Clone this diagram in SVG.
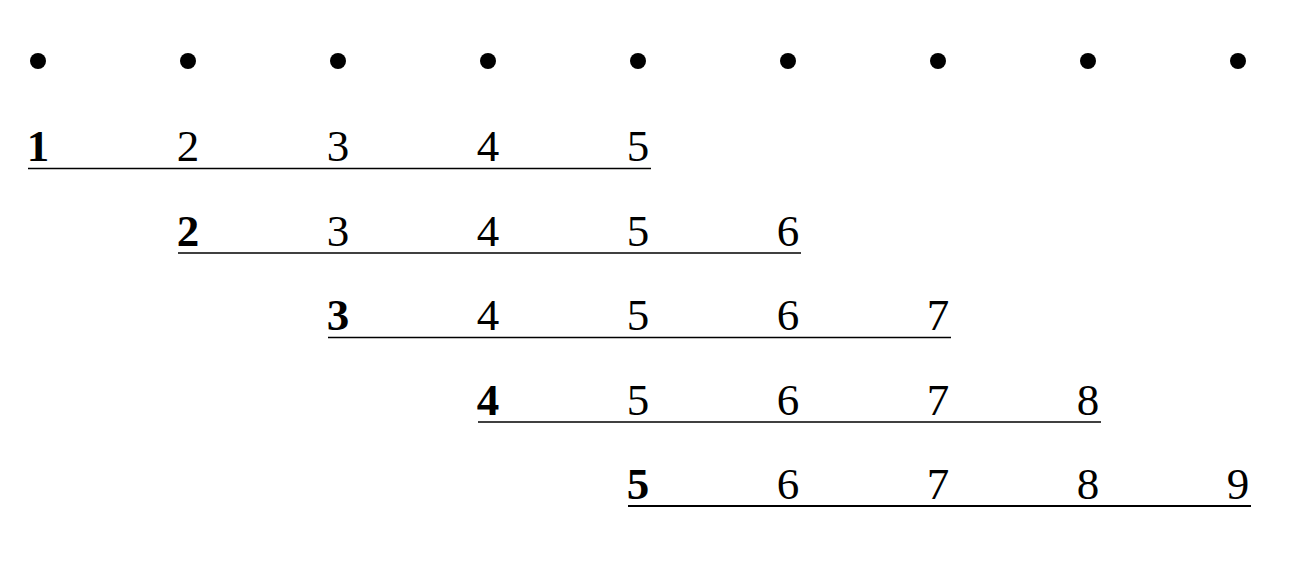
<svg xmlns="http://www.w3.org/2000/svg" width="1307" height="566" viewBox="0 0 1307 566">
<style>
.d{font-family:"Liberation Serif","DejaVu Serif",serif;font-size:45px;fill:#000;text-anchor:middle}
.b{font-weight:bold}
.u{stroke:#000;stroke-width:1.3;fill:none}
.dot{fill:#000}
</style>
<rect width="1307" height="566" fill="#fff"/>
<g id="dots">
<circle class="dot" cx="38" cy="61" r="8"/>
<circle class="dot" cx="188" cy="61" r="8"/>
<circle class="dot" cx="338" cy="61" r="8"/>
<circle class="dot" cx="488" cy="61" r="8"/>
<circle class="dot" cx="638" cy="61" r="8"/>
<circle class="dot" cx="788" cy="61" r="8"/>
<circle class="dot" cx="938" cy="61" r="8"/>
<circle class="dot" cx="1088" cy="61" r="8"/>
<circle class="dot" cx="1238" cy="61" r="8"/>
</g>
<g id="row1">
<text class="d b" x="38" y="161">1</text>
<text class="d" x="188" y="161">2</text>
<text class="d" x="338" y="161">3</text>
<text class="d" x="488" y="161">4</text>
<text class="d" x="638" y="161">5</text>
</g>
<g id="row2">
<text class="d b" x="188" y="246">2</text>
<text class="d" x="338" y="246">3</text>
<text class="d" x="488" y="246">4</text>
<text class="d" x="638" y="246">5</text>
<text class="d" x="788" y="246">6</text>
</g>
<g id="row3">
<text class="d b" x="338" y="330">3</text>
<text class="d" x="488" y="330">4</text>
<text class="d" x="638" y="330">5</text>
<text class="d" x="788" y="330">6</text>
<text class="d" x="938" y="330">7</text>
</g>
<g id="row4">
<text class="d b" x="488" y="415">4</text>
<text class="d" x="638" y="415">5</text>
<text class="d" x="788" y="415">6</text>
<text class="d" x="938" y="415">7</text>
<text class="d" x="1088" y="415">8</text>
</g>
<g id="row5">
<text class="d b" x="638" y="499">5</text>
<text class="d" x="788" y="499">6</text>
<text class="d" x="938" y="499">7</text>
<text class="d" x="1088" y="499">8</text>
<text class="d" x="1238" y="499">9</text>
</g>
<g id="connectors">
<line class="u" x1="28" y1="168.5" x2="651" y2="168.5"/>
<line class="u" x1="178" y1="253" x2="801" y2="253"/>
<line class="u" x1="328" y1="337.5" x2="951" y2="337.5"/>
<line class="u" x1="478" y1="422" x2="1101" y2="422"/>
<line class="u" x1="628" y1="506" x2="1251" y2="506" style="stroke-width:2"/>
</g>
</svg>
